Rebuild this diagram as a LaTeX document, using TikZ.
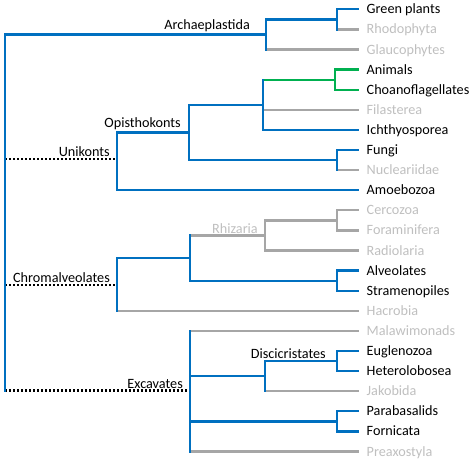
\documentclass[tikz,border=0pt]{standalone}
\usepackage{fontspec}
\setmainfont{Carlito}
\usetikzlibrary{positioning}
\definecolor{treeblue}{HTML}{0070C0}
\definecolor{treegreen}{HTML}{00B050}
\definecolor{linegray}{HTML}{A6A6A6}
\definecolor{textgray}{HTML}{BFBFBF}

\begin{document}
\begin{tikzpicture}[x=1pt, y=-1pt,
    branch/.style={line width=2.3pt, line cap=rect},
    bluebr/.style={branch, treeblue},
    greenbr/.style={branch, treegreen},
    graybr/.style={branch, linegray},
    dotbr/.style={line width=2.4pt, black, dash pattern=on 2.1pt off 1.9pt},
    taxon/.style={anchor=west, inner xsep=8.5pt, inner ysep=0pt, text height=9pt, text depth=0pt, font=\fontsize{14.2}{16}\selectfont},
    faded/.style={taxon, text=textgray},
    clade/.style={inner sep=1pt, font=\fontsize{14.2}{16}\selectfont}]
            \useasboundingbox (0,0) rectangle (474,463);

            % Define taxa, top to bottom
            \node[taxon] (grn) at (358,9.3) {Green plants};
            \node[faded] (rho) at (358,29.4) {Rhodophyta};
            \node[faded] (gla) at (358,49.5) {Glaucophytes};
            \node[taxon] (ani) at (358,69.6) {Animals};
            \node[taxon] (cho) at (358,89.7) {Choanoflagellates};
            \node[faded] (fil) at (358,109.8) {Filasterea};
            \node[taxon] (ich) at (358,129.9) {Ichthyosporea};
            \node[taxon] (fun) at (358,150.0) {Fungi};
            \node[faded] (nuc) at (358,170.1) {Nucleariidae};
            \node[taxon] (amo) at (358,190.2) {Amoebozoa};
            \node[faded] (cer) at (358,210.3) {Cercozoa};
            \node[faded] (fora) at (358,230.4) {Foraminifera};
            \node[faded] (rad) at (358,250.5) {Radiolaria};
            \node[taxon] (alv) at (358,270.6) {Alveolates};
            \node[taxon] (str) at (358,290.7) {Stramenopiles};
            \node[faded] (hac) at (358,310.8) {Hacrobia};
            \node[faded] (mal) at (358,330.9) {Malawimonads};
            \node[taxon] (eug) at (358,351.0) {Euglenozoa};
            \node[taxon] (het) at (358,371.1) {Heterolobosea};
            \node[faded] (jak) at (358,391.2) {Jakobida};
            \node[taxon] (par) at (358,411.3) {Parabasalids};
            \node[taxon] (frn) at (358,431.4) {Fornicata};
            \node[faded] (pre) at (358,451.5) {Preaxostyla};

            % Define branch points
            \coordinate (plants) at (337,19.35);
            \coordinate (archae) at (266,34.4);
            \coordinate (metazoa) at (335,79.65);
            \coordinate (holozoa) at (263,104.8);
            \coordinate (holomyc) at (337,160.05);
            \coordinate (opisin) at (189,132.4);
            \coordinate (opis) at (117,159);
            \coordinate (cerfor) at (337,220.35);
            \coordinate (rhiz) at (265,235.4);
            \coordinate (alvstr) at (337,280.65);
            \coordinate (sar) at (190,258);
            \coordinate (chrom) at (117,284.8);
            \coordinate (eughet) at (337,361.05);
            \coordinate (disc) at (265,376.1);
            \coordinate (parfor) at (337,421.35);
            \coordinate (exc) at (190,390.6);
            \coordinate (root) at (5,212);

            % Draw horizontal branches
            \draw[bluebr] (archae -| root) -- (archae);
            \draw[dotbr] (opis -| root) -- (opis);
            \draw[dotbr] (chrom -| root) -- (chrom);
            \draw[dotbr] (exc -| root) -- (exc);
            \draw[bluebr] (plants -| archae) -- (plants);
            \draw[bluebr] (grn.west -| plants) -- (grn.west);
            \draw[graybr] (rho.west -| plants) -- (rho.west);
            \draw[graybr] (gla.west -| archae) -- (gla.west);
            \draw[bluebr] (opisin -| opis) -- (opisin);
            \draw[bluebr] (amo.west -| opis) -- (amo.west);
            \draw[bluebr] (holozoa -| opisin) -- (holozoa);
            \draw[bluebr] (holomyc -| opisin) -- (holomyc);
            \draw[greenbr] (metazoa -| holozoa) -- (metazoa);
            \draw[greenbr] (ani.west -| metazoa) -- (ani.west);
            \draw[greenbr] (cho.west -| metazoa) -- (cho.west);
            \draw[graybr] (fil.west -| holozoa) -- (fil.west);
            \draw[bluebr] (ich.west -| holozoa) -- (ich.west);
            \draw[bluebr] (fun.west -| holomyc) -- (fun.west);
            \draw[graybr] (nuc.west -| holomyc) -- (nuc.west);
            \draw[bluebr] (sar -| chrom) -- (sar);
            \draw[graybr] (hac.west -| chrom) -- (hac.west);
            \draw[graybr] (rhiz -| sar) -- (rhiz);
            \draw[bluebr] (alvstr -| sar) -- (alvstr);
            \draw[graybr] (cerfor -| rhiz) -- (cerfor);
            \draw[graybr] (cer.west -| cerfor) -- (cer.west);
            \draw[graybr] (fora.west -| cerfor) -- (fora.west);
            \draw[graybr] (rad.west -| rhiz) -- (rad.west);
            \draw[bluebr] (alv.west -| alvstr) -- (alv.west);
            \draw[bluebr] (str.west -| alvstr) -- (str.west);
            \draw[graybr] (mal.west -| exc) -- (mal.west);
            \draw[bluebr] (disc -| exc) -- (disc);
            \draw[bluebr] (parfor -| exc) -- (parfor);
            \draw[graybr] (pre.west -| exc) -- (pre.west);
            \draw[bluebr] (eughet -| disc) -- (eughet);
            \draw[bluebr] (eug.west -| eughet) -- (eug.west);
            \draw[bluebr] (het.west -| eughet) -- (het.west);
            \draw[graybr] (jak.west -| disc) -- (jak.west);
            \draw[bluebr] (par.west -| parfor) -- (par.west);
            \draw[bluebr] (frn.west -| parfor) -- (frn.west);

            % Draw vertical branches on top
            \draw[bluebr] (root |- archae) -- (root |- exc);
            \draw[bluebr] (archae |- plants) -- (archae |- gla.west);
            \draw[bluebr] (plants |- grn.west) -- (plants |- rho.west);
            \draw[bluebr] (opis |- opisin) -- (opis |- amo.west);
            \draw[bluebr] (opisin |- holozoa) -- (opisin |- holomyc);
            \draw[bluebr] (holozoa |- metazoa) -- (holozoa |- ich.west);
            \draw[greenbr] (metazoa |- ani.west) -- (metazoa |- cho.west);
            \draw[bluebr] (holomyc |- fun.west) -- (holomyc |- nuc.west);
            \draw[bluebr] (chrom |- sar) -- (chrom |- hac.west);
            \draw[bluebr] (sar |- rhiz) -- (sar |- alvstr);
            \draw[graybr] (rhiz |- cerfor) -- (rhiz |- rad.west);
            \draw[graybr] (cerfor |- cer.west) -- (cerfor |- fora.west);
            \draw[bluebr] (alvstr |- alv.west) -- (alvstr |- str.west);
            \draw[bluebr] (exc |- mal.west) -- (exc |- pre.west);
            \draw[bluebr] (disc |- eughet) -- (disc |- jak.west);
            \draw[bluebr] (eughet |- eug.west) -- (eughet |- het.west);
            \draw[bluebr] (parfor |- par.west) -- (parfor |- frn.west);

            % Clade names
            \node[clade, above left=1pt and 15pt of archae] (archlab) {Archaeplastida};
            \node[clade, above left=1pt and 7pt of opisin] (opislab) {Opisthokonts};
            \node[clade, above left=1pt and 6pt of opis] (unilab) {Unikonts};
            \node[clade, above left=1pt and 6pt of chrom] (chromlab) {Chromalveolates};
            \node[clade, text=textgray, above left=1pt and 6pt of rhiz] (rhizlab) {Rhizaria};
            \node[clade, above left=1pt and 6pt of exc] (exclab) {Excavates};
            \node[clade, above left=1pt and 10pt of eughet] (disclab) {Discicristates};
        \end{tikzpicture}
\end{document}
